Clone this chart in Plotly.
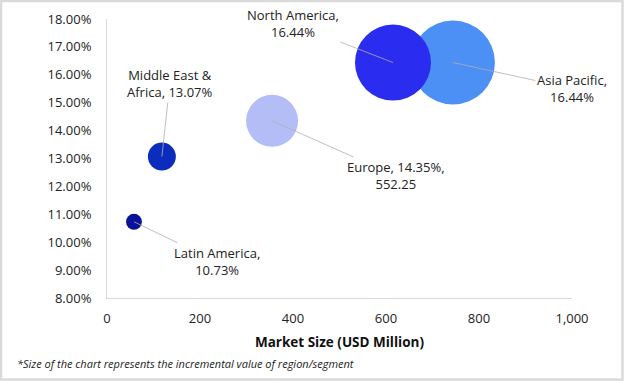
import plotly.graph_objects as go

regions = ["Latin America", "Middle East & Africa", "Europe", "North America", "Asia Pacific"]
market_size = [58, 118, 355, 615, 744]
cagr = [10.73, 13.07, 14.35, 16.44, 16.44]
incremental = [52, 160, 552.25, 1180, 1440]
colors = ["#0a1299", "#0b2cbd", "#b4bdf6", "#2a2cef", "#4c8ff5"]
label_texts = ["Latin America,<br>10.73%", "Middle East &<br>Africa, 13.07%",
               "Europe, 14.35%,<br>552.25", "North America,<br>16.44%", "Asia Pacific,<br>16.44%"]
label_offsets = [(83, 40), (8, -73), (124, 55), (-100, -39), (119, 26)]

x_ticks = [0, 200, 400, 600, 800, 1000]
x_ticktext = ["0", "200", "400", "600", "800", "1,000"]
y_ticks = [8, 9, 10, 11, 12, 13, 14, 15, 16, 17, 18]
y_ticktext = ["8.00%", "9.00%", "10.00%", "11.00%", "12.00%", "13.00%",
              "14.00%", "15.00%", "16.00%", "17.00%", "18.00%"]

FONT = "Open Sans"
W, H = 624, 381
ML, MR, MT, MB = 107, 52, 19, 83
PW, PH = W - ML - MR, H - MT - MB

fig = go.Figure()
# draw larger bubbles first so overlap matches (Asia Pacific behind North America)
order = [4, 2, 3, 1, 0]
fig.add_trace(go.Scatter(
    x=[market_size[i] for i in order],
    y=[cagr[i] for i in order],
    mode="markers",
    marker=dict(
        size=[incremental[i] for i in order],
        sizemode="area",
        sizeref=552.25 / (2 * 26 ** 2),
        color=[colors[i] for i in order],
        opacity=1,
        line=dict(width=0),
    ),
    hoverinfo="skip",
    showlegend=False,
))

for i, txt in enumerate(label_texts):
    ax, ay = label_offsets[i]
    fig.add_annotation(
        x=market_size[i], y=cagr[i], xref="x", yref="y",
        text=txt, showarrow=True, arrowhead=0, arrowwidth=0.8,
        arrowcolor="#b0b0b0", ax=ax, ay=ay, standoff=0, startstandoff=0,
        font=dict(family=FONT, size=13, color="#222222"),
        align="center",
    )

fig.add_annotation(
    x=(15 - ML) / PW, y=-(363 - (H - MB)) / PH,
    xref="paper", yref="paper", xanchor="left", yanchor="middle",
    text="<i>*Size of the chart represents the incremental value of region/segment</i>",
    showarrow=False, font=dict(family=FONT, size=11, color="#222222"),
)

fig.add_shape(type="rect", xref="paper", yref="paper",
              x0=-(ML - 1) / PW, y0=-(MB - 1.5) / PH, x1=1 + (MR - 1.5) / PW, y1=1 + (MT - 1) / PH,
              line=dict(color="#dadada", width=2.5), layer="above")

fig.update_layout(
    width=W, height=H,
    margin=dict(l=ML, r=MR, t=MT, b=MB, autoexpand=False),
    paper_bgcolor="white", plot_bgcolor="white",
    font=dict(family=FONT, size=13, color="#222222"),
    xaxis=dict(
        range=[0, 1000], tickvals=x_ticks, ticktext=x_ticktext,
        showgrid=False, zeroline=False, showline=True, linecolor="#d9d9d9", linewidth=1,
        ticks="outside", ticklen=8, tickcolor="rgba(0,0,0,0)",
        title=dict(text="<b>Market Size (USD Million)</b>", font=dict(family=FONT, size=13.5, color="#111111"), standoff=11),
    ),
    yaxis=dict(
        range=[8, 18], tickvals=y_ticks, ticktext=y_ticktext,
        showgrid=False, zeroline=False, showline=True, linecolor="#d9d9d9", linewidth=1,
        ticks="outside", ticklen=12, tickcolor="rgba(0,0,0,0)",
    ),
)

fig.write_html("out.html", config={"displayModeBar": False},
               post_script="document.body.style.margin='0';document.body.style.overflow='hidden';")
